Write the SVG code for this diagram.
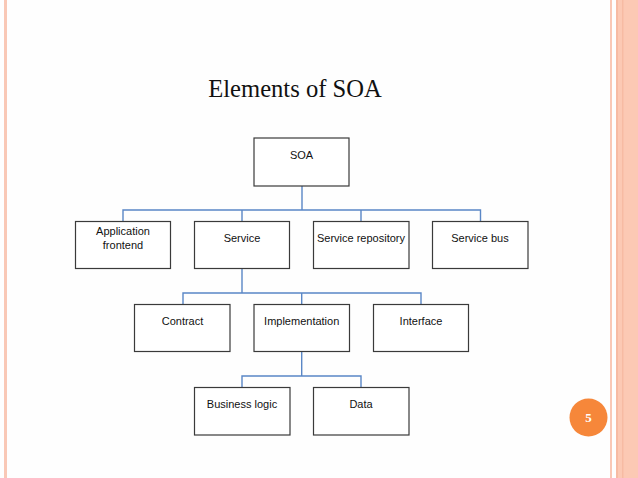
<svg xmlns="http://www.w3.org/2000/svg" width="638" height="478" viewBox="0 0 638 478">
<style>
.box{fill:#ffffff;stroke:#3a3a3a;stroke-width:1.2}
.lbl{font-family:"Liberation Sans",Arial,sans-serif;font-size:11px;fill:#111;text-anchor:middle}
.conn{fill:none;stroke:#5a87c6;stroke-width:1.4}
</style>
<rect x="0" y="0" width="638" height="478" fill="#fefefe"/>
<rect x="4" y="0" width="3" height="478" fill="#f9c8b6"/>
<rect x="610" y="0" width="2" height="478" fill="#f9c8b6"/>
<rect x="616" y="0" width="22" height="478" fill="#fcc9b4"/>
<rect x="616" y="0" width="2" height="478" fill="#f7bba3"/>
<rect x="622" y="0" width="1.5" height="478" fill="#f7bba3"/>
<text x="295" y="97" font-family="'Liberation Serif','Times New Roman',serif" font-size="24.6" fill="#111" text-anchor="middle">Elements of SOA</text>
<g id="connectors">
<path class="conn" d="M302 186V210M123 221.5V210H480.5V221.5M242 210V221.5M361 210V221.5"/>
<path class="conn" d="M242 269V293M183 304.5V293H421V304.5M301.7 293V304.5"/>
<path class="conn" d="M301.7 352V376M242 387.5V376H361V387.5"/>
</g>
<g id="soa"><rect class="box" x="254" y="138" width="95" height="48"/><text class="lbl" x="301.5" y="159">SOA</text></g>
<g id="app"><rect class="box" x="75.5" y="221.5" width="95" height="47"/><text class="lbl" x="123" y="235">Application</text><text class="lbl" x="123" y="249">frontend</text></g>
<g id="service"><rect class="box" x="194.5" y="221.5" width="95" height="47"/><text class="lbl" x="242" y="242">Service</text></g>
<g id="repo"><rect class="box" x="313.5" y="221.5" width="95.5" height="47"/><text class="lbl" x="361" y="242">Service repository</text></g>
<g id="bus"><rect class="box" x="432.5" y="221.5" width="95.5" height="47"/><text class="lbl" x="480" y="242">Service bus</text></g>
<g id="contract"><rect class="box" x="134.5" y="304.5" width="95.5" height="47"/><text class="lbl" x="182.5" y="325">Contract</text></g>
<g id="impl"><rect class="box" x="254" y="304.5" width="95.5" height="47"/><text class="lbl" x="301.7" y="325">Implementation</text></g>
<g id="iface"><rect class="box" x="373.5" y="304.5" width="95" height="47"/><text class="lbl" x="421" y="325">Interface</text></g>
<g id="bizlogic"><rect class="box" x="194.5" y="387.5" width="95.5" height="47.5"/><text class="lbl" x="242" y="408">Business logic</text></g>
<g id="data"><rect class="box" x="313.5" y="387.5" width="95.5" height="47.5"/><text class="lbl" x="361" y="408">Data</text></g>
<g id="page"><circle cx="588.5" cy="417.5" r="19" fill="#f6873a"/><text x="588.5" y="422" font-family="'Liberation Serif','Times New Roman',serif" font-size="13" font-weight="bold" fill="#fff" text-anchor="middle">5</text></g>
</svg>
